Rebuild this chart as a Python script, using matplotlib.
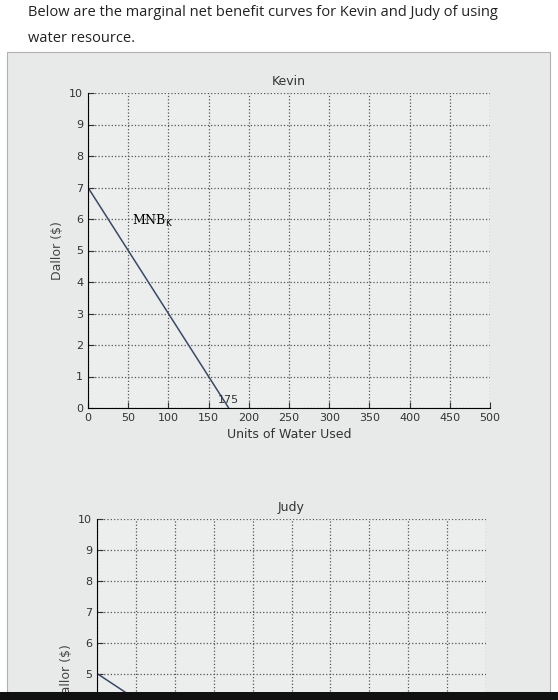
import matplotlib
matplotlib.use("Agg")
import matplotlib.pyplot as plt
from matplotlib.patches import Rectangle

kevin_x = [0, 175]
kevin_y = [7, 0]
judy_x = [0, 300]
judy_y = [5, 0]
x_ticks = [0, 50, 100, 150, 200, 250, 300, 350, 400, 450, 500]
y_ticks = list(range(0, 11))

fig = plt.figure(figsize=(5.58, 7.0), dpi=100)
fig.patch.set_facecolor("white")
fig.add_artist(Rectangle((7/558, 8/700), 543/558, 640/700, transform=fig.transFigure,
                         facecolor="#e8eae9", edgecolor="#b0b0b0", lw=0.8, zorder=0))
fig.text(28/558, 1-12/700, "Below are the marginal net benefit curves for Kevin and Judy of using",
         fontsize=10.5, family="Open Sans", va="center", color="#222222")
fig.text(28/558, 1-38/700, "water resource.", fontsize=10.5, family="Open Sans", va="center", color="#222222")

def setup(ax, title):
    ax.set_facecolor("#eceeed")
    ax.set_xlim(0, 500); ax.set_ylim(0, 10)
    ax.set_xticks(x_ticks); ax.set_yticks(y_ticks)
    ax.grid(True, linestyle=":", color="#555555", lw=0.9)
    for s in ["top", "right"]:
        ax.spines[s].set_visible(False)
    ax.tick_params(direction="in", labelsize=8, colors="#333333", length=4)
    ax.set_title(title, fontsize=9, color="#333333", pad=6)
    ax.set_ylabel("Dallor ($)", fontsize=9, color="#444444")

ax1 = fig.add_axes([88/558, 1-408/700, 402/558, 315/700])
setup(ax1, "Kevin")
ax1.plot(kevin_x, kevin_y, color="#3a4a66", lw=1.1)
ax1.set_xlabel("Units of Water Used", fontsize=9, color="#333333")
ax1.text(55, 5.8, r"MNB$_{\mathrm{K}}$", family="DejaVu Serif", fontsize=9)
ax1.text(175, 0.1, "175", fontsize=8, ha="center", va="bottom", color="#333333")

ax2 = fig.add_axes([97/558, 1-828/700, 389/558, 309/700])
setup(ax2, "Judy")
ax2.plot(judy_x, judy_y, color="#3a4a66", lw=1.1)
ax2.tick_params(axis="x", labelbottom=False)
ax2.set_yticks(y_ticks[4:])

fig.add_artist(Rectangle((0, 0), 1, 8/700, transform=fig.transFigure,
                         facecolor="#111111", edgecolor="none", zorder=10))
fig.savefig("out.png", dpi=100)
